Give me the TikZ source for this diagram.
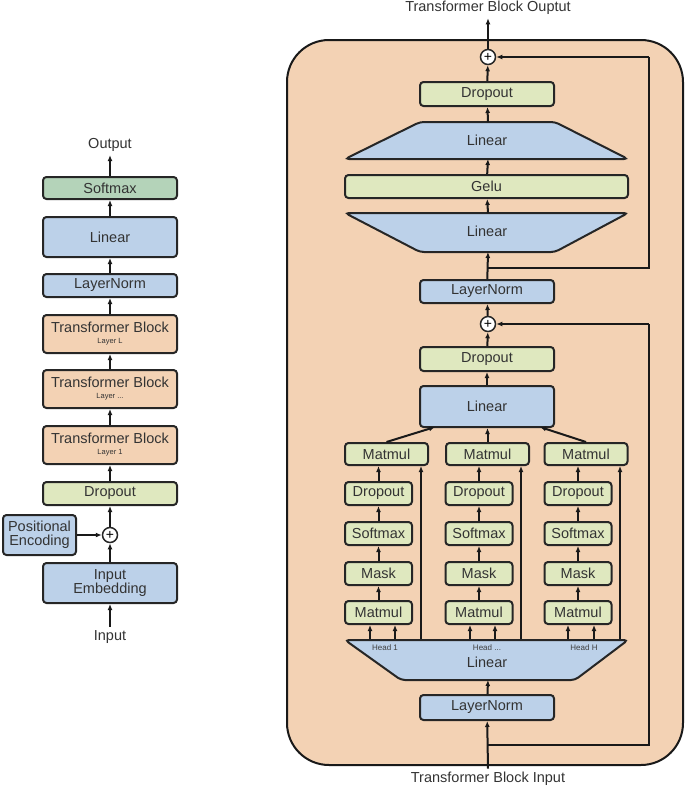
\documentclass[tikz,border=0pt]{standalone}
\usepackage{fontspec}
\setmainfont{Liberation Sans}
\usetikzlibrary{arrows.meta}
\begin{document}
\begin{tikzpicture}[x=1pt,y=-1pt,
 box/.style={draw=black!85,line width=2pt,rounded corners=3.5pt,text=black!80,font=\fontsize{14.5}{15}\selectfont},
 bl/.style={fill=blueb},gr/.style={fill=greenb},org/.style={fill=orangeb},
 arr/.style={-{Latex[length=6pt,width=5pt]},line width=2pt,black!90},
 ln/.style={line width=2pt,black!90},
 trap/.style={line width=2pt,black!85,fill=blueb,rounded corners=4pt},
 plus/.style={circle,draw=black!85,line width=1.5pt,fill=white,minimum size=15pt,inner sep=0pt,font=\fontsize{14}{14}\selectfont},
 lab/.style={text=black!80,font=\fontsize{14.5}{15}\selectfont}]
\definecolor{blueb}{HTML}{BCD1E9}
\definecolor{greenb}{HTML}{DFE8BF}
\definecolor{orangeb}{HTML}{F3D2B4}
\definecolor{sgreen}{HTML}{B4D3B9}
\useasboundingbox (0,0) rectangle (685,790);
% ---------- left column
\def\bx#1#2#3#4#5{\node[box,#5,minimum width=134pt,minimum height=#3pt,align=center,inner sep=1pt] (#1) at (110,#2) {#4};}
\node[lab] (out) at (110,145) {Output};
\bx{soft}{188}{22}{Softmax}{fill=sgreen}
\bx{lin}{237}{40}{Linear}{bl}
\bx{ln}{285.5}{23}{LayerNorm}{bl}
\bx{tbL}{334}{38}{Transformer Block\\[-4pt]{\fontsize{7.5}{8}\selectfont Layer L}}{org}
\bx{tbM}{389}{38}{Transformer Block\\[-4pt]{\fontsize{7.5}{8}\selectfont Layer ...}}{org}
\bx{tbO}{445}{38}{Transformer Block\\[-4pt]{\fontsize{7.5}{8}\selectfont Layer 1}}{org}
\bx{drop}{493.5}{23}{Dropout}{gr}
\node[plus] (p0) at (110,535) {+};
\node[box,bl,minimum width=73pt,minimum height=40pt,align=center,inner sep=1pt] (pe) at (39.5,535) {Positional\\[-1pt]Encoding};
\bx{emb}{583}{40}{Input\\[-1pt]Embedding}{bl}
\node[lab] (inp) at (110,637) {Input};
\draw[arr] (inp) -- (emb);
\draw[arr] (emb) -- (p0);
\draw[arr] (pe) -- (p0);
\draw[arr] (p0) -- (drop);
\draw[arr] (drop) -- (tbO);
\draw[arr] (tbO) -- (tbM);
\draw[arr] (tbM) -- (tbL);
\draw[arr] (tbL) -- (ln);
\draw[arr] (ln) -- (lin);
\draw[arr] (lin) -- (soft);
\draw[arr] (soft) -- (out);
% ---------- right block
\draw[line width=2pt,black!90,fill=orangeb,rounded corners=42pt] (287,40) rectangle (683,765);
\node[lab] (tout) at (488,8) {Transformer Block Ouptut};
\node[lab] (tin) at (488,779) {Transformer Block Input};
\node[plus] (pA) at (488,57) {+};
\node[box,gr,minimum width=134pt,minimum height=24pt] (dA) at (487,94) {Dropout};
\draw[trap] (420,122) -- (555,122) -- (628,159) -- (345,159) -- cycle;
\node[lab] (linA) at (487,140) {Linear};
\node[box,gr,minimum width=283pt,minimum height=23pt] (gelu) at (486.5,186.5) {Gelu};
\draw[trap] (345,213) -- (628,213) -- (555,252) -- (420,252) -- cycle;
\node[lab] (linB) at (487,231) {Linear};
\node[box,bl,minimum width=134pt,minimum height=23pt] (lnA) at (487,291.5) {LayerNorm};
\node[plus] (pB) at (488,324) {+};
\node[box,gr,minimum width=134pt,minimum height=24pt] (dB) at (487,359) {Dropout};
\node[box,bl,minimum width=134pt,minimum height=41pt] (linC) at (487,406.5) {Linear};
% heads
\foreach \i/\bxc/\sx/\ax/\bxx/\tall in {1/386.5/378.5/370/395/421, 2/487.5/479/470/495/521, 3/586/578/568/594/620}{
  \node[box,gr,minimum width=83pt,minimum height=22pt] (mt\i) at (\bxc,454) {Matmul};
  \node[box,gr,minimum width=67pt,minimum height=23pt] (dr\i) at (\sx,493.5) {Dropout};
  \node[box,gr,minimum width=67pt,minimum height=23pt] (sm\i) at (\sx,533.5) {Softmax};
  \node[box,gr,minimum width=67pt,minimum height=23pt] (mk\i) at (\sx,573.5) {Mask};
  \node[box,gr,minimum width=67pt,minimum height=23pt] (mb\i) at (\sx,612.5) {Matmul};
  \coordinate (qa\i) at (\ax,640); \coordinate (qb\i) at (\bxx,640); \coordinate (v\i) at (\tall,640);
  \draw[arr] (qa\i) -- (qa\i |- mb\i.south);
  \draw[arr] (qb\i) -- (qb\i |- mb\i.south);
  \draw[arr] (v\i) -- (v\i |- mt\i.south);
  \draw[arr] (mb\i) -- (mk\i);
  \draw[arr] (mk\i) -- (sm\i);
  \draw[arr] (sm\i) -- (dr\i);
  \draw[arr] (dr\i) -- (dr\i |- mt\i.south);
}
\draw[trap] (345,640) -- (628,640) -- (575,680) -- (401,680) -- cycle;
\node[text=black!75,font=\fontsize{8}{9}\selectfont] (h1) at (385,648) {Head 1};
\node[text=black!75,font=\fontsize{8}{9}\selectfont] (h2) at (487,648) {Head ...};
\node[text=black!75,font=\fontsize{8}{9}\selectfont] (h3) at (584,648) {Head H};
\node[lab] (linD) at (487,662) {Linear};
\coordinate (linDb) at (488,680);
\node[box,bl,minimum width=134pt,minimum height=25pt] (lnB) at (487,707.5) {LayerNorm};
\coordinate (cL) at (435,427); \coordinate (cR) at (540,427);
\draw[arr] (mt1.north) -- (cL);
\draw[arr] (mt2.north) -- (mt2.north |- linC.south);
\draw[arr] (mt3.north) -- (cR);
% main spine
\coordinate (rb) at (488,745); \coordinate (rbR) at (649,745);
\coordinate (ra) at (488,268); \coordinate (raR) at (649,268);
\draw[arr] (tin.north) -- (lnB);
\draw[arr] (lnB) -- (linDb);
\draw[arr] (linC) -- (dB);
\draw[arr] (dB) -- (pB);
\draw[arr] (pB) -- (lnA);
\draw[ln] (rb) -- (rbR) -- (649,324) coordinate (rbT);
\draw[arr] (rbT) -- (pB);
\draw[arr] (lnA) -- (488,252);
\draw[ln] (ra) -- (raR) -- (649,57) coordinate (raT);
\draw[arr] (raT) -- (pA);
\draw[arr] (488,213) -- (gelu);
\draw[arr] (gelu) -- (488,159);
\draw[arr] (488,122) -- (dA);
\draw[arr] (dA) -- (pA);
\draw[arr] (pA) -- (tout);
\end{tikzpicture}
\end{document}
